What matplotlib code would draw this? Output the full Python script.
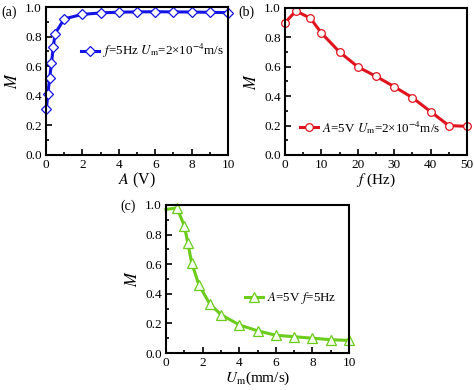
import matplotlib
matplotlib.use("Agg")
import matplotlib.pyplot as plt
from matplotlib.ticker import MultipleLocator

plt.rcParams['font.family'] = ['Liberation Serif', 'DejaVu Serif']
plt.rcParams['mathtext.fontset'] = 'stix'

# Panel (a): M vs A
a_x = [0.02, 0.1, 0.2, 0.3, 0.4, 0.5, 1, 2, 3, 4, 5, 6, 7, 8, 9, 10]
a_y = [0.31, 0.41, 0.52, 0.62, 0.73, 0.82, 0.92, 0.95, 0.96, 0.965, 0.967, 0.968, 0.967, 0.966, 0.964, 0.962]
# Panel (b): M vs f
b_x = [0, 3, 7, 10, 15, 20, 25, 30, 35, 40, 45, 50]
b_y = [0.90, 0.98, 0.93, 0.83, 0.70, 0.60, 0.535, 0.465, 0.39, 0.295, 0.20, 0.195]
# Panel (c): M vs Um
c_x = [0, 0.6, 1.0, 1.2, 1.4, 1.8, 2.4, 3, 4, 5, 6, 7, 8, 9, 10]
c_y = [0.97, 0.98, 0.86, 0.74, 0.61, 0.46, 0.33, 0.26, 0.19, 0.15, 0.12, 0.11, 0.10, 0.09, 0.085]

W, H = 474, 390
fig = plt.figure(figsize=(W / 100, H / 100), dpi=100)

TICK_FS = 9.5
LAB_FS = 11
LEG_FS = 9.4

def ax_px(l, t, r, b):
    return fig.add_axes([l / W, 1 - b / H, (r - l) / W, (b - t) / H])

def style(ax, xmax, xmajor, xminor):
    ax.set_ylim(0, 1.0)
    ax.set_xlim(0, xmax)
    ax.yaxis.set_major_locator(MultipleLocator(0.2))
    ax.yaxis.set_minor_locator(MultipleLocator(0.1))
    ax.xaxis.set_major_locator(MultipleLocator(xmajor))
    ax.xaxis.set_minor_locator(MultipleLocator(xminor))
    ax.tick_params(which='both', direction='in', top=False, right=False,
                   labelsize=TICK_FS, width=1.2, pad=3)
    ax.tick_params(which='major', length=4)
    ax.tick_params(which='minor', length=2.5)
    for s in ax.spines.values():
        s.set_linewidth(1.5)
    ax.set_ylabel('$M$', fontsize=LAB_FS + 1, labelpad=3)

leg_kw = dict(frameon=False, fontsize=LEG_FS, handlelength=1.4, handletextpad=0.3,
              borderaxespad=0, borderpad=0)

# (a)
ax1 = ax_px(46, 7, 228, 155)
ax1.plot(a_x, a_y, color='#1414e6', lw=2.2, marker='D', ms=5.5, mfc='white',
         mec='#1414e6', mew=0.9, label=r'$f$=5Hz $U_{\rm m}$=2×10$^{-4}$m/s', clip_on=False)
style(ax1, 10, 2, 1)
ax1.set_xlabel('$A$ (V)', fontsize=LAB_FS + 0.5, labelpad=0)
ax1.legend(loc='center left', bbox_to_anchor=(0.19, 0.70), **leg_kw)
fig.text(1 / W, 1 - 12 / H, '(a)', fontsize=10, va='center')

# (b)
ax2 = ax_px(285, 8, 467, 155)
ax2.plot(b_x, b_y, color='#e0141e', lw=2.2, marker='o', ms=5.5, mfc='white',
         mec='#e0141e', mew=0.9, label=r'$A$=5V $U_{\rm m}$=2×10$^{-4}$m/s', clip_on=False)
style(ax2, 50, 10, 5)
ax2.set_xlabel('$f$ (Hz)', fontsize=LAB_FS, labelpad=0)
ax2.legend(loc='center left', bbox_to_anchor=(0.08, 0.19), **leg_kw)
fig.text(238 / W, 1 - 12 / H, '(b)', fontsize=10, va='center')

# (c)
ax3 = ax_px(166, 205, 349, 353)
ax3.plot(c_x, c_y, color='#6ccc1c', lw=2.2, marker='^', ms=6.5, mfc='#f4fbee',
         mec='#6ccc1c', mew=0.9, markevery=list(range(1, len(c_x))),
         label=r'$A$=5V $f$=5Hz', clip_on=False)
style(ax3, 10, 2, 1)
ax3.set_xlabel(r'$U_{\rm m}$(mm/s)', fontsize=LAB_FS, labelpad=0)
ax3.legend(loc='center left', bbox_to_anchor=(0.43, 0.37), **leg_kw)
fig.text(120 / W, 1 - 206 / H, '(c)', fontsize=10, va='center')

fig.savefig('out.png', dpi=100)
